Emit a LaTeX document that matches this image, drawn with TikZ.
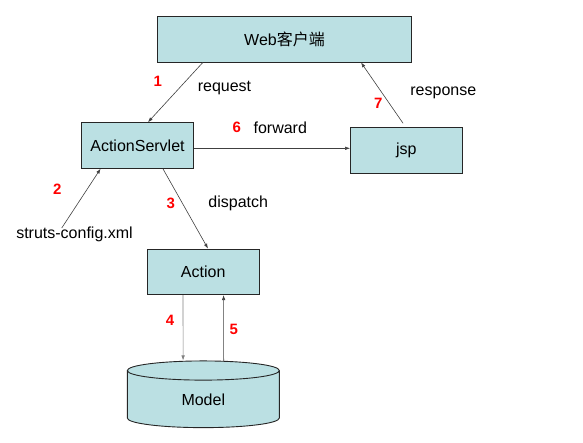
\documentclass[tikz,border=0pt]{standalone}
\usepackage{fontspec}
\setmainfont{Liberation Sans}
\newfontfamily\cjk{Noto Sans CJK SC}
\usetikzlibrary{shapes.geometric,arrows.meta}
\definecolor{boxfill}{RGB}{187,224,227}
\definecolor{capfill}{RGB}{204,233,236}
\definecolor{numred}{RGB}{255,0,0}

\begin{document}
\begin{tikzpicture}[x=1pt,y=-1pt,>={Latex[length=5pt,width=3.5pt]},line width=0.6pt,
    font=\fontsize{16}{19}\selectfont]
    \tikzstyle{box}=[draw=black!85,line width=0.9pt,fill=boxfill,inner sep=0pt]
    \tikzstyle{small box}=[box,minimum width=111.5pt,minimum height=45.5pt]
    \tikzstyle{model box}=[box,cylinder,shape border rotate=90,aspect=0.44,
        minimum width=152pt,minimum height=66.7pt,cylinder uses custom fill,
        cylinder body fill=boxfill,cylinder end fill=capfill]
    \tikzstyle{num}=[text=numred,font=\fontsize{15}{18}\selectfont\bfseries,inner sep=0pt]
    \tikzstyle{annot}=[inner sep=0pt]
    \tikzstyle{flow}=[->,draw=black!75]

    \useasboundingbox (0,0) rectangle (583,442);

    % Draw the boxes
    \node[box,minimum width=254.4pt,minimum height=46pt] (web) at (284.5,39) {Web{\cjk 客户端}};
    \node[small box] (servlet) at (137.5,145.5) {ActionServlet};
    \node[small box] (jsp) at (406.3,150.3) {jsp};
    \node[small box] (action) at (203.2,271.8) {Action};
    \node[model box] (model) at (203.3,399.3) {Model};
    \node[annot] (config) at (74.5,234) {struts-config.xml};

    % Connect the boxes
    \draw[flow] ([xshift=46pt]web.south west) -- ([xshift=66.6pt]servlet.north west);
    \draw[flow] ([xshift=-12.8pt,yshift=-1.8pt]config.north) -- ([xshift=19.3pt]servlet.south west);
    \draw[flow] ([xshift=81.6pt]servlet.south west) -- ([xshift=61pt]action.north west);
    \draw[flow,draw=black!50] ([xshift=-20.2pt]action.south) -- ([xshift=-20.2pt]model.north);
    \draw[flow] ([xshift=20.4pt,yshift=-0.4pt]model.north) -- ([xshift=20.4pt]action.south);
    \draw[flow] ([yshift=-2.8pt]servlet.east) -- ([yshift=-2.8pt]servlet.east -| jsp.west);
    \draw[flow,shorten <=4.6pt] ([xshift=-0.6pt]jsp.north) -- ([xshift=76.5pt]web.south);

    % Number the steps
    \foreach \n/\x/\y in {1/157.7/81, 2/57.3/189.3, 3/170.7/203, 4/170/320.3,
                          5/233.7/329.3, 6/236.7/127, 7/378.3/103.3}
        \node[num] (n-\n) at (\x,\y) {\n};

    % Annotate the connectors
    \foreach \name/\txt/\x/\y in {req/request/224.5/87.7, disp/dispatch/238.2/203.7,
                                  fwd/forward/280.3/127.7, resp/response/443.3/92.7}
        \node[annot] (\name) at (\x,\y) {\txt};
\end{tikzpicture}
\end{document}
